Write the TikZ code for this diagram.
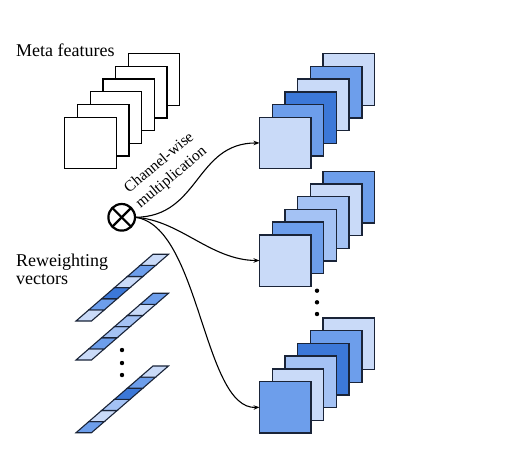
\documentclass[tikz,border=0pt]{standalone}
\usepackage{fontspec}
\setmainfont{Liberation Serif}
\usetikzlibrary{arrows.meta}
\definecolor{cl}{HTML}{C9DAF8}
\definecolor{clm}{HTML}{A4C2F4}
\definecolor{cm}{HTML}{6D9EEB}
\definecolor{cd}{HTML}{3C78D8}
\definecolor{edge}{HTML}{1A2438}
\begin{document}
\begin{tikzpicture}[x=1pt,y=-1pt,
  wsq/.style={draw=black,line width=1.3pt,fill=white,minimum size=51.5pt,inner sep=0pt,outer sep=0pt,anchor=north west},
  bsq/.style={draw=edge,line width=1.4pt,minimum size=51.5pt,inner sep=0pt,outer sep=0pt,anchor=north west},
  lab/.style={font=\fontsize{18}{17.7}\selectfont,inner sep=0pt},
  conn/.style={line width=1.1pt,-{Stealth[length=6pt,width=4.5pt]}},
  dotn/.style={circle,fill=black,minimum size=4.4pt,inner sep=0pt},
  cell/.style={draw=edge,line width=1.1pt}]
\useasboundingbox (0,0) rectangle (508,456);
% meta features
\foreach \i in {5,4,3,2,1,0}
  \node[wsq] (m\i) at ({64.8+12.7*\i},{117.2-12.7*\i}) {};
% stack 1
\foreach \i/\c in {5/cl,4/cm,3/cl,2/cd,1/cm,0/cl}
  \node[bsq,fill=\c] (ta\i) at ({259.5+12.7*\i},{117.2-12.7*\i}) {};
% stack 2
\foreach \i/\c in {5/cm,4/cl,3/clm,2/clm,1/cm,0/cl}
  \node[bsq,fill=\c] (tb\i) at ({259.5+12.7*\i},{234.8-12.7*\i}) {};
% stack 3
\foreach \i/\c in {5/cl,4/cm,3/cd,2/clm,1/cl,0/cm}
  \node[bsq,fill=\c] (tc\i) at ({259.5+12.7*\i},{381.5-12.7*\i}) {};
% dots right
\node[dotn] (dr1) at (317,290.7) {};
\node[dotn] (dr2) at (317,302.3) {};
\node[dotn] (dr3) at (317,314) {};
% vectors
\foreach \k/\c in {0/cl,1/cm,2/cd,3/cl,4/cm,5/cl}
  \filldraw[cell,fill=\c] ({76+12.83*\k},{321-11.12*\k}) -- ++(15.5,0) -- ++(12.83,-11.12) -- ++(-15.5,0) -- cycle;
\foreach \k/\c in {0/cl,1/cm,2/clm,3/clm,4/cl,5/cm}
  \filldraw[cell,fill=\c] ({76+12.83*\k},{360-11.12*\k}) -- ++(15.5,0) -- ++(12.83,-11.12) -- ++(-15.5,0) -- cycle;
\foreach \k/\c in {0/cm,1/cl,2/clm,3/cd,4/cm,5/cl}
  \filldraw[cell,fill=\c] ({76+12.83*\k},{432.7-11.12*\k}) -- ++(15.5,0) -- ++(12.83,-11.12) -- ++(-15.5,0) -- cycle;
% dots left
\node[dotn] (dl1) at (122,350) {};
\node[dotn] (dl2) at (122,363) {};
\node[dotn] (dl3) at (122,375) {};
% otimes
\node[draw,circle,line width=2.2pt,minimum size=26.6pt,inner sep=0pt,outer sep=0pt] (ot) at (121.7,217.3) {};
\draw[line width=2.2pt] (ot.north west) -- (ot.south east);
\draw[line width=2.2pt] (ot.north east) -- (ot.south west);
% connectors
\draw[conn] (ot.east) .. controls (200,217) and (195,143) .. (ta0.west);
\draw[conn] (ot.east) .. controls (180,220) and (210,260) .. (tb0.west);
\draw[conn] (ot.east) .. controls (200,225) and (203,410) .. (tc0.west);
% labels
\node[lab,anchor=base west] (meta) at (16,56.7) {Meta features};
\node[lab,anchor=base west,align=left] (rw) at (16,284.4) {Reweighting\\vectors};
\node[font=\fontsize{15.5}{19}\selectfont,rotate=40,align=center,inner sep=0pt] (cw) at (165.5,170.5) {Channel-wise\\multiplication};
\end{tikzpicture}
\end{document}
